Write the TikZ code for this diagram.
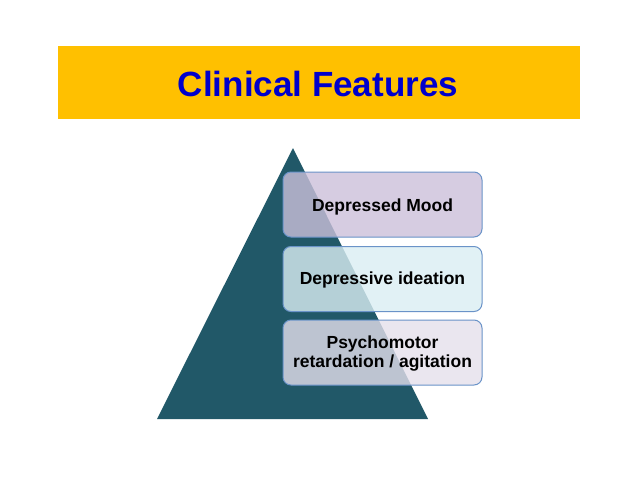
\documentclass[tikz,border=0pt]{standalone}
\usepackage{fontspec}
\setmainfont{Liberation Sans}
\begin{document}
\begin{tikzpicture}[x=1pt,y=-1pt,
  banner/.style={fill=bannergold,draw=none},
  boxtext/.style={font=\fontsize{17.5}{18.5}\selectfont\bfseries,align=center,text=black},
  featbox/.style={draw=boxedge,line width=1pt,rounded corners=8pt,minimum width=199pt,minimum height=65pt,inner sep=0pt,fill opacity=0.8}]
\definecolor{bannergold}{HTML}{FFC000}
\definecolor{titleblue}{HTML}{0000CC}
\definecolor{pyr}{HTML}{215868}
\definecolor{boxedge}{HTML}{6A93C8}
\definecolor{fillA}{HTML}{CCC0DA}
\definecolor{fillB}{HTML}{DAEEF3}
\definecolor{fillC}{HTML}{E5E0EC}
\useasboundingbox (0,0) rectangle (638,493);
\fill[white] (0,0) rectangle (638,493);
\node[banner,minimum width=522pt,minimum height=73pt,inner sep=0pt] (banner) at (319,82.5) {};
\node[font=\fontsize{35}{40}\selectfont\bfseries,text=titleblue] (title) at (318,84) {Clinical Features};
\fill[pyr] (293,148) -- (157,419) -- (428,419) -- cycle;
\node[featbox,fill=fillA] (b1) at (382.5,204.5) {};
\node[featbox,fill=fillB] (b2) at (382.5,279) {};
\node[featbox,fill=fillC] (b3) at (382.5,352.5) {};
\node[boxtext] (t1) at ([yshift=-2pt]b1.center) {Depressed Mood};
\node[boxtext] (t2) at ([yshift=-1pt]b2.center) {Depressive ideation};
\node[boxtext] (t3) at ([yshift=-1pt]b3.center) {Psychomotor\\retardation / agitation};
\end{tikzpicture}
\end{document}
